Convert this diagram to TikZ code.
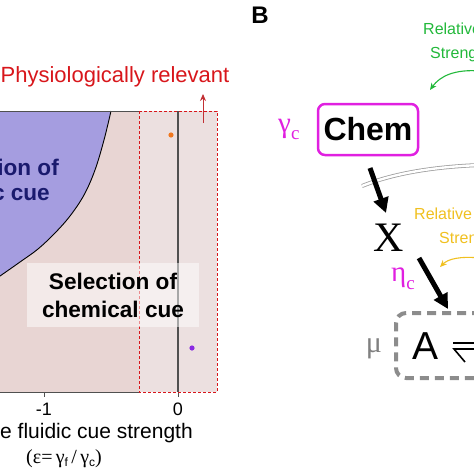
\documentclass[tikz,border=0pt]{standalone}
\usepackage{fontspec}
\setmainfont{Liberation Sans}
\newfontfamily\grserif{Liberation Serif}
\usetikzlibrary{arrows.meta}

\definecolor{plotpink}{HTML}{E8D5D3}
\definecolor{boxpink}{HTML}{ECE0E0}
\definecolor{fluidpurple}{HTML}{A59DE0}
\definecolor{navytext}{HTML}{1A1A6E}
\definecolor{relred}{HTML}{D8161B}
\definecolor{chemmag}{HTML}{E020E0}
\definecolor{greenarr}{HTML}{22B83A}
\definecolor{yellarr}{HTML}{F0C020}
\definecolor{dotorange}{HTML}{F07820}
\definecolor{dotpurple}{HTML}{8A2BE2}
\definecolor{axisgray}{HTML}{505050}
\newcommand{\setfsz}[1]{\fontsize{#1}{#1}\selectfont}

\tikzset{
  boldlbl/.style={font=\bfseries\fontsize{22.6}{28}\selectfont, align=center, inner sep=0pt},
  ticklbl/.style={font=\setfsz{18}, inner sep=0pt},
  relw/.style={font=\setfsz{16}, inner sep=0pt, anchor=base west},
  greek/.style={font=\grserif\setfsz{29}, inner sep=0pt, anchor=base west},
  bigarrow/.style={line width=5pt, -{Triangle[length=15pt,width=15pt]}},
  thinarrow/.style={line width=1.1pt, -{Stealth[length=7pt,width=6pt]}},
}

\begin{document}
\begin{tikzpicture}[x=1pt,y=-1pt]
\useasboundingbox (0,0) rectangle (474,474);
\begin{scope}
\clip (0,0) rectangle (474,474);

% ---------- panel A plot ----------
\fill[plotpink] (-5,111) rectangle (139,392);
\fill[boxpink] (139,111) rectangle (217,392);
\fill[fluidpurple] (-5,111) -- plot[smooth,tension=0.6] coordinates {(111,111) (104,140) (95,170) (84,195) (70,216) (55,233) (38,249) (20,262) (0,276) (-5,279)} -- cycle;
\draw[line width=0.9pt] plot[smooth,tension=0.6] coordinates {(111,111) (104,140) (95,170) (84,195) (70,216) (55,233) (38,249) (20,262) (0,276) (-5,279)};

\draw[axisgray, line width=1pt] (-5,111) -- (139,111);
\draw[axisgray, line width=1pt] (-5,392) -- (139,392);
\draw[axisgray, line width=1pt] (44,392) -- (44,397);
\draw[axisgray, line width=1pt] (178,392) -- (178,397);
\draw[axisgray, line width=1.3pt] (178,111) -- (178,392);
\draw[relred, line width=1pt, dash pattern=on 3pt off 2pt] (139,111) rectangle (217,392);

\fill[dotorange] (171,135) circle (2.6);
\fill[dotpurple] (192,348) circle (2.6);

\node[boldlbl, text=navytext, anchor=east] (fluidtxt1) at (59,167) {ion of};
\node[boldlbl, text=navytext, anchor=east] (fluidtxt2) at (50,195) {c cue};
\node[boldlbl, fill=white, fill opacity=0.5, text opacity=1, minimum width=172, minimum height=64] (chemtxt) at (113,295) {Selection of\\chemical cue};

\node[ticklbl] (tickm1) at (44,409) {-1};
\node[ticklbl] (tick0) at (178,409) {0};
\node[font=\setfsz{21}, inner sep=0pt, anchor=base east] (xlabel) at (193,438) {e fluidic cue strength};
\node[font=\grserif\setfsz{20}, inner sep=0pt] (xdef) at (64,459) {(ε=\,γ\raisebox{-3pt}{\fontspec{Liberation Sans}\setfsz{12}f}\,/\,γ\raisebox{-3pt}{\fontspec{Liberation Sans}\setfsz{12}c})};

\node[font=\setfsz{22}, text=relred, inner sep=0pt] (physrel) at (115,77) {Physiologically relevant};
\coordinate (physA) at (203,123);
\coordinate (physB) at (203,94);
\draw[line width=0.9pt, -{Stealth[length=7pt,width=6pt]}, color=relred!75!gray] (physA) -- (physB);

% ---------- panel B ----------
\node[font=\bfseries\setfsz{24}, inner sep=0pt] (panelB) at (260,15) {B};

\node[relw, text=greenarr] (gr1) at (423,34) {Relative};
\node[relw, text=greenarr] (gr2) at (430,58) {Strength};
\coordinate (gA) at (480,71);
\coordinate (gB) at (430,90);
\draw[thinarrow, greenarr] (gA) .. controls (455,69) and (440,76) .. (gB);

\node[draw=chemmag, line width=2.5pt, rounded corners=7pt, minimum width=100, minimum height=51, inner sep=0pt, font=\bfseries\setfsz{32}] (chem) at (368,129.5) {Chem};
\node[greek, text=chemmag] (gammac) at (278,132.5) {γ\raisebox{-7pt}{\setfsz{19}c}};

\coordinate (dlA) at (362,186);
\coordinate (dlB) at (480,165);
\draw[draw=gray!75, line width=0.8pt, double=white, double distance=2.4pt] (dlA) .. controls (392,174) and (430,167) .. (dlB);

\node[font=\grserif\setfsz{42}, inner sep=0pt] (X) at (389,238) {X};
\coordinate (a1s) at (370,168);
\coordinate (a1e) at (386,213);
\draw[bigarrow] (a1s) -- (a1e);

\node[relw, text=yellarr] (yl1) at (414,219) {Relative};
\node[relw, text=yellarr] (yl2) at (439,243) {Strength};
\coordinate (yA) at (480,258);
\coordinate (yB) at (440,267);
\draw[thinarrow, yellarr] (yA) .. controls (460,256) and (448,259) .. (yB);

\node[greek, text=chemmag] (etac) at (391,281.5) {η\raisebox{-8pt}{\setfsz{19}c}};
\coordinate (a2s) at (419,258);
\coordinate (a2e) at (448,309);
\draw[bigarrow] (a2s) -- (a2e);

\node[draw=gray!90, line width=4pt, dash pattern=on 9pt off 6pt, rounded corners=10pt, minimum width=110, minimum height=65, inner sep=0pt] (abox) at (451,345.5) {};
\node[font=\setfsz{39}, inner sep=0pt] (Aspec) at (426,346) {A};
\node[font=\grserif\setfsz{30}, text=gray, inner sep=0pt, anchor=base] (mu) at (374,352) {μ};

\coordinate (h1a) at (453,343);
\coordinate (h1b) at (480,343);
\coordinate (h2a) at (454,349);
\coordinate (h2b) at (480,349);
\coordinate (h2c) at (465,362);
\draw[line width=1.6pt] (h1a) -- (h1b);
\draw[line width=1.6pt] (h2b) -- (h2a) -- (h2c);
\end{scope}
\end{tikzpicture}
\end{document}
